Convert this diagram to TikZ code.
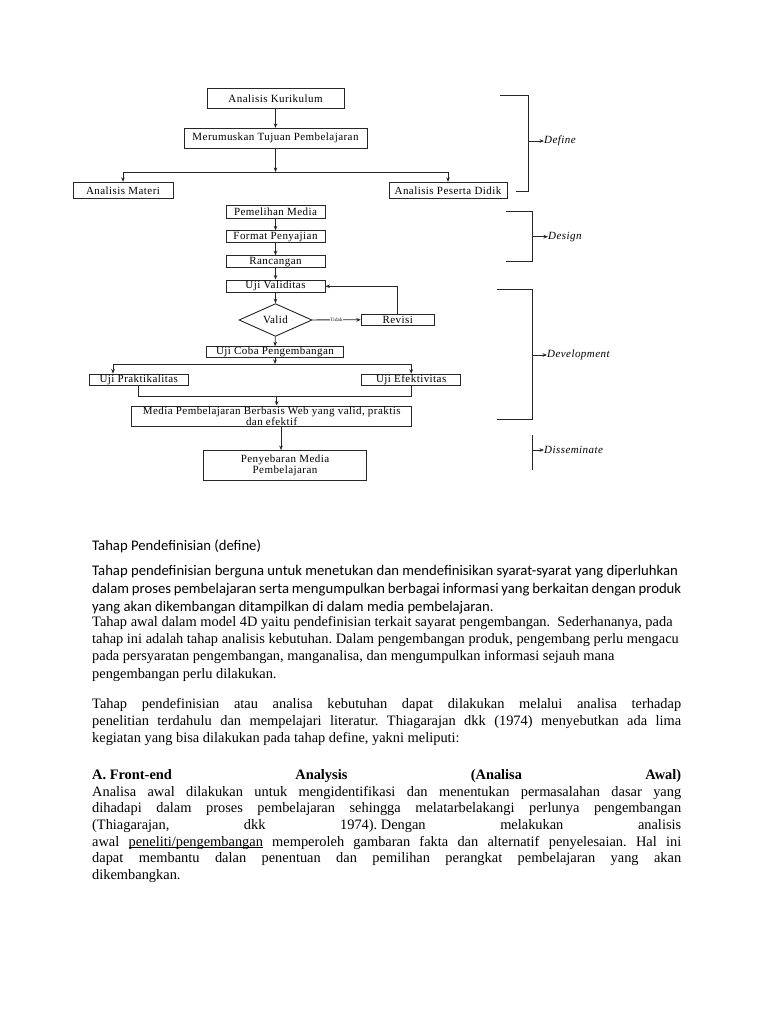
\documentclass[tikz,border=0pt]{standalone}
\usepackage{fontspec}
\setmainfont{Liberation Serif}
\newfontfamily\calib{Carlito}
\newfontfamily\diag[LetterSpace=4]{Liberation Serif}
\usetikzlibrary{arrows.meta,shapes.geometric,calc}
\newsavebox\myulbox
\newcommand\myul[1]{\sbox\myulbox{#1}\rlap{\rule[-1.7pt]{\wd\myulbox}{0.6pt}}\usebox\myulbox}
\begin{document}
\frenchspacing
\begin{tikzpicture}[x=1pt,y=-1pt,
  box/.style={draw=black!85, line width=0.9pt, inner sep=0pt, align=center,
    font=\diag\fontsize{11}{9.8}\selectfont},
  arr/.style={draw=black!85, line width=0.8pt, -{Stealth[length=4.5pt,width=3.6pt]}},
  ln/.style={draw=black!85, line width=0.8pt},
  lbl/.style={font=\diag\itshape\fontsize{11}{12}\selectfont, anchor=west, inner sep=0pt},
  txt/.style={anchor=base west, inner sep=0pt}
]
\fill[white] (0,0) rectangle (768,1024);
\useasboundingbox (0,0) rectangle (768,1024);

% ---------- flow chart ----------
\node[box, minimum width=137pt, minimum height=20pt] (kur) at (275.5,98.3) {Analisis Kurikulum};
\node[box, minimum width=183pt, minimum height=20pt] (mer) at (275.5,138.3) {Merumuskan Tujuan Pembelajaran};
\node[box, minimum width=100pt, minimum height=16pt] (mat) at (123,190.3) {Analisis Materi};
\node[box, minimum width=118pt, minimum height=16pt] (pes) at (448,190.3) {Analisis Peserta Didik};
\node[box, minimum width=99pt, minimum height=12.3pt] (pem) at (275.5,212) {Pemelihan Media};
\node[box, minimum width=99pt, minimum height=12pt] (fmt) at (275.5,236.7) {Format Penyajian};
\node[box, minimum width=99pt, minimum height=12pt] (ran) at (275.5,261.7) {Rancangan};
\node[box, minimum width=99pt, minimum height=12.7pt] (val) at (275.5,286.3) {Uji Validitas};
\node[box, diamond, minimum width=73pt, minimum height=28pt] (dia) at (275.5,320) {Valid};
\node[box, minimum width=73pt, minimum height=11.3pt] (rev) at (397.7,319.7) {Revisi};
\node[box, minimum width=136.6pt, minimum height=10.6pt] (uji) at (275,352) {Uji Coba Pengembangan};
\node[box, minimum width=99pt, minimum height=11.7pt] (pra) at (138.8,380) {Uji Praktikalitas};
\node[box, minimum width=99pt, minimum height=11.7pt] (efe) at (411.2,380) {Uji Efektivitas};
\node[box, minimum width=280pt, minimum height=20.7pt] (med) at (271.7,416.3) {Media Pembelajaran Berbasis Web yang valid, praktis\\dan efektif};
\node[box, minimum width=163.4pt, minimum height=30pt, font=\diag\fontsize{11}{11}\selectfont] (pen) at (285,465.5) {Penyebaran Media\\Pembelajaran};

\draw[arr] (kur) -- (mer);
\coordinate (j1) at (275.5,172);
\draw[arr] (mer) -- (j1);
\draw[ln] (mat.north |- j1) -- (pes.north |- j1);
\draw[arr] (mat.north |- j1) -- (mat.north);
\draw[arr] (pes.north |- j1) -- (pes.north);
\draw[arr] (pem) -- (fmt);
\draw[arr] (fmt) -- (ran);
\draw[arr] (ran) -- (val);
\draw[arr] (val) -- (dia);
\draw[arr] (dia) -- node[font=\diag\fontsize{5}{6}\selectfont, fill=white, inner sep=0.6pt] (tid) {Tidak} (rev);
\draw[arr] (rev.north) |- (val.east);
\draw[arr] (dia) -- (uji);
\coordinate (j2) at (275,364);
\draw[arr] (uji) -- (j2);
\coordinate (jl) at (113,364);
\coordinate (jr) at (efe.north |- j2);
\draw[ln] (jl) -- (jr);
\draw[arr] (jl) -- (jl |- pra.north);
\draw[arr] (jr) -- (efe.north);
\coordinate (j3) at (276.7,396);
\draw[ln] (pra.south) |- (efe.south |- j3) -- (efe.south);
\draw[arr] (j3) -- (j3 |- med.north);
\coordinate (m1) at ($(med.south)+(9.3,0)$);
\draw[arr] (m1) -- (m1 |- pen.north);

% ---------- phase brackets ----------
\draw[ln] (500,95) -- (528,95) -- (528,191) -- (516,191);
\coordinate (bdef) at (528,141);
\node[lbl] (ldef) at (544,141) {Define};
\draw[arr] (bdef) -- (ldef.west);

\draw[ln] (506,211) -- (532.7,211) -- (532.7,261.7) -- (506,261.7);
\coordinate (bdes) at (532.7,236.7);
\node[lbl] (ldes) at (548,236.7) {Design};
\draw[arr] (bdes) -- (ldes.west);

\draw[ln] (497,289.3) -- (532.7,289.3) -- (532.7,419) -- (497,419);
\coordinate (bdev) at (532.7,355);
\node[lbl] (ldev) at (547,355) {Development};
\draw[arr] (bdev) -- (ldev.west);

\draw[ln] (532.7,435) -- (532.7,470);
\coordinate (bdis) at (532.7,450);
\node[lbl] (ldis) at (544,450) {Disseminate};
\draw[arr] (bdis) -- (ldis.west);

% ---------- text ----------
\node[txt, font=\calib\fontsize{14.7}{18}\selectfont] (h1) at (92,550) {Tahap Pendefinisian (define)};

\node[txt] (p1) at (92,575.5) {\parbox[t]{589pt}{\calib\fontsize{14.7}{18}\selectfont
Tahap pendefinisian berguna untuk menetukan dan mendefinisikan syarat-syarat yang diperluhkan\\
dalam proses pembelajaran serta mengumpulkan berbagai informasi yang berkaitan dengan produk\\
yang akan dikembangan ditampilkan di dalam media pembelajaran.}};

\node[txt] (p2) at (92,626) {\parbox[t]{589pt}{\fontsize{14.4}{17.4}\selectfont
Tahap awal dalam model 4D yaitu pendefinisian terkait sayarat pengembangan.\ \ Sederhananya, pada\\
tahap ini adalah tahap analisis kebutuhan. Dalam pengembangan produk, pengembang perlu mengacu\\
pada persyaratan pengembangan, manganalisa, dan mengumpulkan informasi sejauh mana\\
pengembangan perlu dilakukan.}};

\node[txt] (p3) at (92,708) {\parbox[t]{589pt}{\fontsize{14.4}{17}\selectfont
Tahap pendefinisian atau analisa kebutuhan dapat dilakukan melalui analisa terhadap\linebreak
penelitian terdahulu dan mempelajari literatur. Thiagarajan dkk (1974) menyebutkan ada lima\linebreak
kegiatan yang bisa dilakukan pada tahap define, yakni meliputi:}};

\node[txt] (p4) at (92,779.5) {\parbox[t]{589pt}{\fontsize{14.4}{16.67}\selectfont
\textbf{\mbox{A. Front-end} Analysis (Analisa Awal)}\linebreak
Analisa awal dilakukan untuk mengidentifikasi dan menentukan permasalahan dasar yang\linebreak
dihadapi dalam proses pembelajaran sehingga melatarbelakangi perlunya pengembangan\linebreak
(Thiagarajan, dkk \mbox{1974). Dengan} melakukan analisis\linebreak
awal \myul{peneliti/pengembangan} memperoleh gambaran fakta dan alternatif penyelesaian. Hal ini\linebreak
dapat membantu dalan penentuan dan pemilihan perangkat pembelajaran yang akan\linebreak
dikembangkan.}};
\end{tikzpicture}
\end{document}
